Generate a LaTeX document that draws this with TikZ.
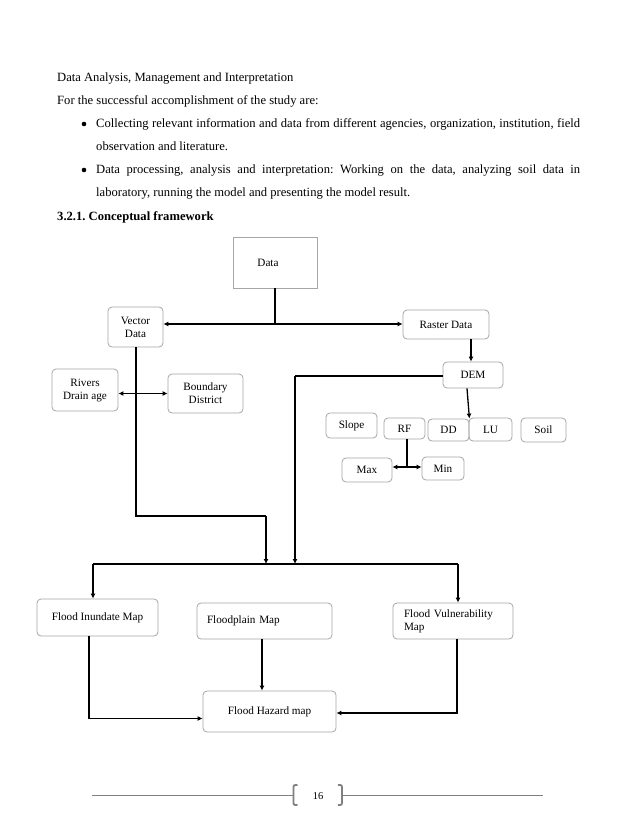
\documentclass[tikz,border=0pt]{standalone}
\usepackage{fontspec}
\setmainfont{Liberation Serif}
\usetikzlibrary{arrows.meta}
\definecolor{boxgray}{HTML}{A6A6A6}
\definecolor{footgray}{HTML}{808080}
\begin{document}
\frenchspacing
\begin{tikzpicture}[x=1pt,y=-1pt,
  box/.style={draw=boxgray, line width=0.8pt, rounded corners=4pt, inner sep=0pt,
              font=\fontsize{11.2}{13}\selectfont, align=center},
  sbox/.style={box, rounded corners=0pt},
  arr/.style={line width=1.3pt, -{Latex[length=5pt,width=5pt]}},
  darr/.style={line width=1.3pt, {Latex[length=5pt,width=5pt]}-{Latex[length=5pt,width=5pt]}},
  ln/.style={line width=1.3pt},
  body/.style={inner sep=0pt, anchor=base west, font=\fontsize{12.6}{15}\selectfont},
  bul/.style={circle, fill=black, inner sep=0pt, minimum size=4.6pt},
  foot/.style={draw=footgray, line width=0.9pt},
  brk/.style={draw=footgray, line width=1.8pt},
]
\fill[white] (0,0) rectangle (638,826);
\useasboundingbox (0,0) rectangle (638,826);

% ---------- body text ----------
\node[body] (t1) at (57,82) {Data Analysis, Management and Interpretation};
\node[body] (t2) at (57,105) {For the successful accomplishment of the study are:};
\node[bul] (b1) at (84,124) {};
\node[body] (t3) at (96,128) {\makebox[484pt][s]{Collecting relevant information and data from different agencies, organization, institution, field}};
\node[body] (t4) at (96,151) {observation and literature.};
\node[bul] (b2) at (84,170) {};
\node[body] (t5) at (96,174) {\makebox[484pt][s]{Data processing, analysis and interpretation: Working on the data, analyzing soil data in}};
\node[body] (t6) at (96,197) {laboratory, running the model and presenting the model result.};
\node[body] (t7) at (57,220) {\bfseries 3.2.1. Conceptual framework};

% ---------- diagram nodes ----------
\node[sbox, minimum width=84pt, minimum height=51pt] (data) at (275,262.5) {\hspace*{-14pt}Data};
\node[box, minimum width=55pt, minimum height=40pt] (vector) at (135.5,327) {Vector\\Data};
\node[box, minimum width=86pt, minimum height=29pt] (raster) at (446,324.5) {Raster Data};
\node[box, minimum width=60pt, minimum height=26pt] (dem) at (473,375) {DEM};
\node[box, minimum width=66pt, minimum height=42pt] (rivers) at (85,390) {Rivers\\Drain age};
\node[box, minimum width=75pt, minimum height=39pt] (boundary) at (205.5,393.5) {Boundary\\District};
\node[box, minimum width=51pt, minimum height=25pt] (slope) at (351.5,425.5) {Slope};
\node[box, minimum width=41pt, minimum height=21pt] (rf) at (404.5,428.5) {RF};
\node[box, minimum width=41pt, minimum height=22pt] (dd) at (448.5,430) {DD};
\node[box, minimum width=43pt, minimum height=23pt] (lu) at (490.5,429.5) {LU};
\node[box, minimum width=45pt, minimum height=24pt] (soil) at (543.5,430) {Soil};
\node[box, minimum width=50pt, minimum height=24pt] (max) at (367,470) {Max};
\node[box, minimum width=42pt, minimum height=23pt] (min) at (443,468.5) {Min};
\node[box, minimum width=121pt, minimum height=37pt] (inund) at (97.5,617.5) {Flood Inundate Map};
\node[box, minimum width=135pt, minimum height=36pt, text width=115pt, align=left] (fplain) at (264.5,621) {Floodplain Map};
\node[box, minimum width=120pt, minimum height=36pt, text width=98pt, align=left] (vuln) at (453,621) {Flood Vulnerability\\Map};
\node[box, minimum width=133pt, minimum height=41pt] (hazard) at (269.5,711.5) {Flood Hazard map};

% ---------- connectors ----------
\coordinate (j1) at (275,324);
\draw[ln] (data.south -| j1) -- (j1);
\draw[arr] (j1) -- (j1 -| vector.east);
\draw[arr] (j1) -- (j1 -| raster.west);
\draw[arr] ([xshift=-2pt]raster.south -| dem.north) -- ([xshift=-2pt]dem.north);
\draw[arr] ([xshift=-6pt]dem.south) -- (dd.north east);
\draw[darr] (rivers.east |- boundary.west) -- (boundary.west);

\coordinate (j2) at (407,467);
\draw[ln] (rf.south -| j2) -- (j2);
\draw[arr] (j2) -- (j2 -| max.east);
\draw[arr] (j2) -- (j2 -| min.west);

\coordinate (busL) at (93,564);
\coordinate (busR) at (458,564);
\coordinate (c1) at (295,376);
\coordinate (c2) at (136,516);
\coordinate (c3) at (266,516);
\draw[ln] (dem.west |- c1) -- (c1);
\draw[arr] (c1) -- (c1 |- busL);
\draw[ln] (vector.south -| c2) -- (c2) -- (c3);
\draw[arr] (c3) -- (c3 |- busL);
\draw[ln] (busL) -- (busR);
\draw[arr] (busL) -- (busL |- inund.north);
\draw[arr] (busR) -- (busR |- vuln.north);

\draw[arr] ([xshift=-2.5pt]fplain.south) -- ([xshift=-2.5pt]fplain.south |- hazard.north);
\draw[arr] ([xshift=-8.5pt]inund.south) |- ([yshift=-7pt]hazard.west);
\draw[arr] ([xshift=4pt]vuln.south) |- ([yshift=-1.5pt]hazard.east);

% ---------- footer ----------
\node[inner sep=0pt, font=\fontsize{10.5}{12}\selectfont] (pg) at (318,796) {16};
\draw[foot] (92,795) -- (293,795);
\draw[foot] (342,795) -- (543,795);
\draw[brk] (297.5,785) .. controls (293.5,785) .. (293.5,789) -- (293.5,801) .. controls (293.5,805) .. (297.5,805);
\draw[brk] (338,785) .. controls (342,785) .. (342,789) -- (342,801) .. controls (342,805) .. (338,805);
\end{tikzpicture}
\end{document}
